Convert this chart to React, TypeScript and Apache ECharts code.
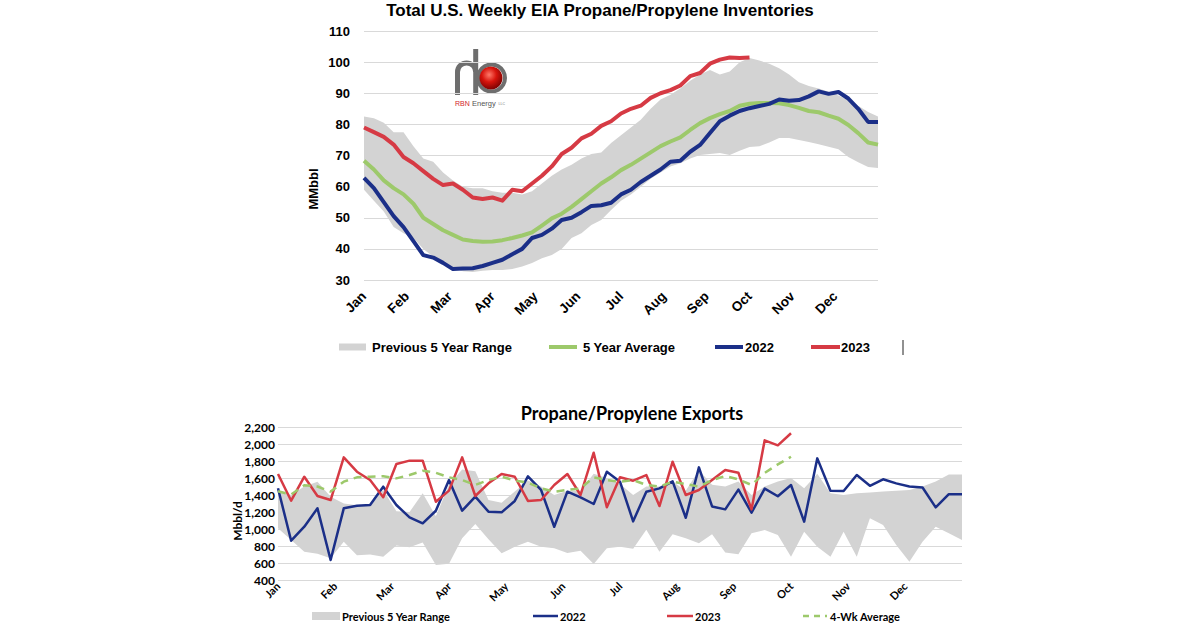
import React, { useEffect, useRef } from 'react';
import * as echarts from 'echarts';

const MONTHS = ['Jan', 'Feb', 'Mar', 'Apr', 'May', 'Jun', 'Jul', 'Aug', 'Sep', 'Oct', 'Nov', 'Dec'];

// Weekly propane/propylene inventories, MMbbl (53 weeks)
const invRangeLow = [59, 55.5, 52, 47, 45, 43.5, 40, 37.5, 36, 34, 32.8, 32.6, 33, 33.2, 33.2, 33.5, 34.3, 35.5, 37, 38, 40, 43.5, 45, 47.7, 49.3, 52.5, 55.5, 57.5, 60, 62.5, 64.5, 66.5, 67.5, 69, 70.2, 70.5, 70.8, 70.2, 71.5, 72.7, 73, 74.2, 75.6, 75.6, 75, 74.3, 73.6, 72.8, 72, 69.5, 67.8, 66.3, 66];
const invRangeHigh = [82.5, 82, 80.5, 77.5, 77.5, 73, 69, 68, 64.5, 62, 60, 59.5, 59.5, 58.5, 58, 58, 57.5, 58.5, 61, 63.5, 65.5, 67, 69, 70.5, 71, 74, 76.5, 79, 81.5, 85, 88, 89.5, 91.5, 94, 96, 97.5, 96, 97, 100, 101.3, 100.5, 99.5, 98, 96, 93.5, 92.3, 91.5, 90.5, 89.3, 87.8, 86, 84, 82.5];
const invFiveYearAvg = [68.3, 65.5, 62, 59.5, 57.5, 54.5, 50, 48, 46, 44.5, 43, 42.5, 42.3, 42.4, 42.8, 43.5, 44.3, 45.3, 47.5, 49.8, 51.3, 53.5, 56, 58.5, 61, 63, 65.3, 67, 69, 71, 73, 74.5, 75.8, 78.2, 80.4, 82, 83.3, 84.3, 86, 86.6, 86.9, 86.9, 86.8, 86.2, 85.3, 84.3, 83.9, 82.8, 81.8, 79.8, 77.2, 74.2, 73.5];
const inv2022 = [62.8, 59.5, 55, 50.5, 47, 42.5, 38, 37.2, 35.5, 33.5, 33.7, 33.8, 34.5, 35.5, 36.5, 38.3, 40, 43.5, 44.5, 46.5, 49.3, 50, 51.8, 53.8, 54, 54.8, 57.5, 59, 61.5, 63.5, 65.5, 68, 68.3, 71.2, 73.4, 77.2, 81, 82.8, 84.3, 85.2, 85.9, 86.6, 88, 87.6, 87.8, 89, 90.6, 89.8, 90.4, 88.3, 85, 80.8, 80.8];
const inv2023 = [79, 77.5, 76, 73.5, 69.5, 67.5, 65, 62.5, 60.5, 61, 59, 56.5, 56, 56.5, 55.5, 59, 58.5, 61, 63.5, 66.5, 70.5, 72.5, 75.5, 77, 79.5, 81, 83.5, 85, 86, 88.5, 90, 91, 92.5, 95.5, 96.5, 99.5, 100.8, 101.5, 101.3, 101.5];

// Weekly propane/propylene exports, Mbbl/d
const expRangeLow = [1010, 870, 733, 710, 655, 850, 690, 700, 674, 805, 785, 840, 576, 590, 890, 1060, 880, 714, 790, 850, 792, 773, 718, 743, 588, 773, 792, 767, 992, 733, 939, 890, 832, 939, 724, 704, 949, 988, 929, 674, 968, 792, 674, 968, 674, 1126, 1047, 812, 616, 851, 1027, 949, 870];
const expRangeHigh = [1455, 1400, 1500, 1557, 1380, 1300, 1280, 1270, 1460, 1210, 1200, 1420, 1150, 1520, 1700, 1680, 1340, 1310, 1440, 1570, 1500, 1400, 1450, 1450, 1650, 1600, 1530, 1400, 1500, 1500, 1560, 1450, 1690, 1520, 1500, 1560, 1400, 1500, 1560, 1600, 1480, 1650, 1420, 1400, 1420, 1430, 1440, 1450, 1460, 1500, 1560, 1640, 1640];
const exp2022 = [1479, 862, 1027, 1243, 635, 1243, 1274, 1282, 1498, 1282, 1137, 1067, 1215, 1576, 1215, 1380, 1204, 1196, 1330, 1620, 1459, 1027, 1439, 1373, 1294, 1674, 1557, 1090, 1439, 1478, 1560, 1132, 1725, 1265, 1231, 1463, 1192, 1475, 1385, 1518, 1086, 1831, 1451, 1447, 1635, 1508, 1585, 1537, 1500, 1488, 1255, 1410, 1410];
const exp2023 = [1647, 1333, 1615, 1388, 1341, 1843, 1674, 1576, 1373, 1765, 1804, 1804, 1321, 1451, 1843, 1388, 1537, 1647, 1615, 1330, 1341, 1518, 1647, 1400, 1898, 1255, 1608, 1568, 1635, 1270, 1792, 1400, 1459, 1576, 1694, 1662, 1231, 2043, 1984, 2126];
const exp4WkAvg = [1445, 1405, 1515, 1500, 1440, 1557, 1608, 1615, 1620, 1596, 1635, 1686, 1662, 1608, 1576, 1518, 1576, 1615, 1570, 1545, 1478, 1439, 1459, 1478, 1608, 1576, 1557, 1576, 1518, 1498, 1557, 1529, 1498, 1576, 1623, 1584, 1518, 1660, 1760, 1850];

const TOP_FONT = 'Liberation Sans';
const BOTTOM_FONT = 'Lato';
const BAND = '#d3d3d3';
const GREEN = '#9dc96b';
const BLUE = '#1b2f88';
const RED = '#d63a44';

// week index -> position on a 0..12 month axis
const toMonth = (i: number) => (i * 12) / 52;
const weekly = (values: number[]) => values.map((v, i) => [toMonth(i), v]);

const monthLabel = (v: number) => MONTHS[Math.round(v)] ?? '';

// Shaded min/max range, drawn as one polygon through the grid's scales
function bandSeries(lo: number[], hi: number[], name: string) {
  return {
    type: 'custom',
    name,
    silent: true,
    z: 1,
    data: [[0, lo[0]]],
    renderItem: (_params: any, api: any) => {
      const upper = hi.map((v, i) => api.coord([toMonth(i), v]));
      const lower = lo.map((v, i) => api.coord([toMonth(i), v])).reverse();
      return {
        type: 'polygon',
        shape: { points: upper.concat(lower) },
        style: { fill: BAND, stroke: 'none' },
      };
    },
  };
}

function lineSeries(name: string, values: number[], color: string, width: number, dashed = false) {
  return {
    type: 'line',
    name,
    data: weekly(values),
    symbol: 'none',
    lineStyle: { color, width, type: dashed ? [8, 6] : 'solid', join: 'round', cap: 'butt' },
    itemStyle: { color },
    z: 3,
  };
}

function legendText(x: number, y: number, text: string, font: string, size: number) {
  return {
    type: 'text',
    x,
    y,
    style: { text, fill: '#000', fontFamily: font, fontWeight: 'bold', fontSize: size, align: 'left', verticalAlign: 'middle' },
  };
}

function legendLine(x1: number, x2: number, y: number, color: string, width: number, dash?: number[]) {
  return {
    type: 'line',
    shape: { x1, y1: y, x2, y2: y },
    style: { stroke: color, lineWidth: width, lineDash: dash },
  };
}

// Vertical unit caption beside a y axis
function unitCaption(x: number, y: number, text: string, font: string, size: number) {
  return {
    type: 'text',
    x,
    y,
    rotation: Math.PI / 2,
    style: { text, fill: '#000', fontFamily: font, fontWeight: 'bold', fontSize: size, align: 'center', verticalAlign: 'middle' },
  };
}

function buildInventoryOption() {
  const pipe = { stroke: '#6e6e6e', lineWidth: 5, fill: 'none', lineCap: 'butt' };
  return {
    animation: false,
    backgroundColor: '#fff',
    title: {
      text: 'Total U.S. Weekly EIA Propane/Propylene Inventories',
      left: 'center',
      top: 2,
      padding: 0,
      textStyle: { fontFamily: TOP_FONT, fontWeight: 'bold', fontSize: 17, color: '#000' },
    },
    grid: { left: 364, right: 322, top: 31, bottom: 100 },
    xAxis: {
      type: 'value',
      min: 0,
      max: 12,
      interval: 1,
      axisLine: { show: false },
      axisTick: { show: false },
      splitLine: { show: false },
      axisLabel: {
        rotate: 45,
        margin: 14,
        formatter: monthLabel,
        fontFamily: TOP_FONT,
        fontWeight: 'bold',
        fontSize: 13.5,
        color: '#000',
      },
    },
    yAxis: {
      type: 'value',
      min: 30,
      max: 110,
      interval: 10,
      axisLine: { show: false },
      axisTick: { show: false },
      splitLine: { lineStyle: { color: '#d9d9d9', width: 1 } },
      axisLabel: { margin: 14, fontFamily: TOP_FONT, fontWeight: 'bold', fontSize: 13, color: '#000' },
    },
    series: [
      bandSeries(invRangeLow, invRangeHigh, 'Previous 5 Year Range'),
      lineSeries('5 Year Average', invFiveYearAvg, GREEN, 4),
      lineSeries('2022', inv2022, BLUE, 4),
      lineSeries('2023', inv2023, RED, 4),
    ],
    graphic: [
      unitCaption(313, 189, 'MMbbl', TOP_FONT, 13),
      // rb logo
      { type: 'line', shape: { x1: 457.5, y1: 95, x2: 457.5, y2: 72 }, style: pipe },
      { type: 'arc', shape: { cx: 466.6, cy: 72, r: 9.1, startAngle: Math.PI, endAngle: 2 * Math.PI, clockwise: true }, style: pipe },
      { type: 'line', shape: { x1: 475.7, y1: 49, x2: 475.7, y2: 95 }, style: pipe },
      { type: 'ring', shape: { cx: 491.5, cy: 78, r: 15.5, r0: 11.5 }, style: { fill: '#6e6e6e' } },
      {
        type: 'circle',
        shape: { cx: 491, cy: 78, r: 11.5 },
        style: {
          fill: {
            type: 'radial',
            x: 0.42,
            y: 0.36,
            r: 0.7,
            colorStops: [
              { offset: 0, color: '#ff7a6a' },
              { offset: 0.45, color: '#d8140c' },
              { offset: 1, color: '#6e0000' },
            ],
          },
        },
      },
      { type: 'text', x: 455, y: 103, style: { text: 'RBN', fill: '#d3262a', fontFamily: TOP_FONT, fontSize: 7, verticalAlign: 'middle' } },
      { type: 'text', x: 472, y: 103, style: { text: 'Energy', fill: '#555', fontFamily: TOP_FONT, fontSize: 7.5, verticalAlign: 'middle' } },
      { type: 'text', x: 498.5, y: 104, style: { text: 'LLC', fill: '#777', fontFamily: TOP_FONT, fontSize: 3.5, verticalAlign: 'middle' } },
      // legend
      { type: 'rect', shape: { x: 339, y: 343.5, width: 27, height: 7 }, style: { fill: BAND } },
      legendText(372, 347, 'Previous 5 Year Range', TOP_FONT, 13),
      legendLine(549, 577, 347, GREEN, 4),
      legendText(583, 347, '5 Year Average', TOP_FONT, 13),
      legendLine(715, 743, 347, BLUE, 4),
      legendText(745, 347, '2022', TOP_FONT, 13),
      legendLine(811, 840, 347, RED, 4),
      legendText(841, 347, '2023', TOP_FONT, 13),
      { type: 'line', shape: { x1: 903, y1: 340, x2: 903, y2: 355 }, style: { stroke: '#222', lineWidth: 1 } },
    ],
  };
}

function buildExportOption() {
  return {
    animation: false,
    backgroundColor: '#fff',
    grid: { left: 278, right: 238, top: 47, bottom: 50 },
    xAxis: {
      type: 'value',
      min: 0,
      max: 12,
      interval: 1,
      axisLine: { show: false },
      axisTick: { show: false },
      splitLine: { show: false },
      axisLabel: {
        rotate: 45,
        margin: 4,
        formatter: monthLabel,
        fontFamily: BOTTOM_FONT,
        fontWeight: 'bold',
        fontSize: 11,
        color: '#000',
      },
    },
    yAxis: {
      type: 'value',
      min: 400,
      max: 2200,
      interval: 200,
      axisLine: { show: false },
      axisTick: { show: false },
      splitLine: { lineStyle: { color: '#d9d9d9', width: 1 } },
      axisLabel: {
        margin: 3,
        formatter: (v: number) => v.toLocaleString('en-US'),
        fontFamily: BOTTOM_FONT,
        fontWeight: 'bold',
        fontSize: 12,
        color: '#000',
      },
    },
    series: [
      bandSeries(expRangeLow, expRangeHigh, 'Previous 5 Year Range'),
      lineSeries('2022', exp2022, BLUE, 2.5),
      lineSeries('2023', exp2023, RED, 2.5),
      lineSeries('4-Wk Average', exp4WkAvg, GREEN, 2.5, true),
    ],
    graphic: [
      {
        type: 'text',
        x: 632,
        y: 33,
        style: {
          text: 'Propane/Propylene Exports',
          fill: '#000',
          fontFamily: BOTTOM_FONT,
          fontWeight: 'bold',
          fontSize: 18,
          align: 'center',
          verticalAlign: 'middle',
        },
      },
      unitCaption(237, 141, 'Mbbl/d', BOTTOM_FONT, 12),
      { type: 'rect', shape: { x: 312, y: 232, width: 28, height: 8 }, style: { fill: BAND } },
      legendText(342, 236, 'Previous 5 Year Range', BOTTOM_FONT, 11),
      legendLine(533, 558, 236, BLUE, 2.5),
      legendText(560, 236, '2022', BOTTOM_FONT, 11),
      legendLine(667, 693, 236, RED, 2.5),
      legendText(695, 236, '2023', BOTTOM_FONT, 11),
      legendLine(803, 827, 236, GREEN, 2.5, [6, 5]),
      legendText(830, 236, '4-Wk Average', BOTTOM_FONT, 11),
    ],
  };
}

export default function App() {
  const topRef = useRef<HTMLDivElement>(null);
  const bottomRef = useRef<HTMLDivElement>(null);

  useEffect(() => {
    const top = echarts.init(topRef.current!, null, { renderer: 'svg' });
    top.setOption(buildInventoryOption() as any);
    const bottom = echarts.init(bottomRef.current!, null, { renderer: 'svg' });
    bottom.setOption(buildExportOption() as any);
    return () => {
      top.dispose();
      bottom.dispose();
    };
  }, []);

  return (
    <div style={{ position: 'absolute', left: 0, top: 0, width: 1200, height: 630, background: '#fff' }}>
      <div ref={topRef} style={{ position: 'absolute', left: 0, top: 0, width: 1200, height: 380 }} />
      <div ref={bottomRef} style={{ position: 'absolute', left: 0, top: 380, width: 1200, height: 250 }} />
    </div>
  );
}
